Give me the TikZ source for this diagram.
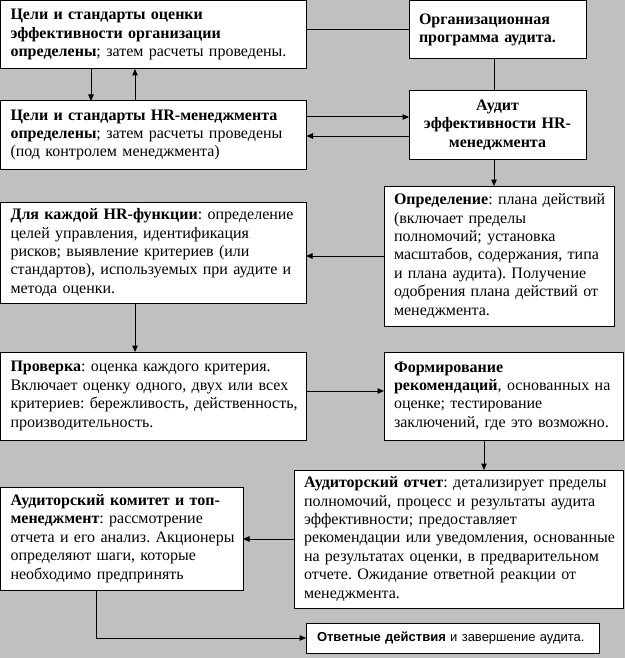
\documentclass[tikz,border=0pt]{standalone}
\usepackage{fontspec}
\setmainfont{Liberation Serif}
\newfontfamily\arialf{Liberation Sans}
\usetikzlibrary{arrows.meta,calc}
\definecolor{bggray}{RGB}{192,192,192}
\newcommand{\Lline}[1]{\mbox{#1}}
\frenchspacing
\tikzset{
  box/.style={draw=black, line width=1pt, fill=white, rectangle, inner xsep=10pt, inner ysep=0pt, outer sep=0pt, align=left, font=\fontsize{16}{18.4}\selectfont\frenchspacing},
  conn/.style={line width=1pt, draw=black},
  arr/.style={conn, -{Triangle[length=6.5pt,width=5.5pt]}}
}
\begin{document}
\begin{tikzpicture}[x=1pt,y=-1pt]
\fill[bggray] (0,0) rectangle (625,658);
\useasboundingbox (0,0) rectangle (625,658);

\node[box, minimum width=306, minimum height=68.5, text width=286] (A) at (153.5,34.75)
 {\Lline{\textbf{Цели и стандарты оценки}}\\ \Lline{\textbf{эффективности организации}}\\ \Lline{\textbf{определены}; затем расчеты проведены.}};
\node[box, minimum width=306, minimum height=68, text width=286] (B) at (153.5,135)
 {\Lline{\textbf{Цели и стандарты HR-менеджмента}}\\ \Lline{\textbf{определены}; затем расчеты проведены}\\ \Lline{(под контролем менеджмента)}};
\node[box, minimum width=177, minimum height=58.5, text width=157] (C) at (497.5,29.75)
 {\Lline{\textbf{Организационная}}\\ \Lline{\textbf{программа аудита.}}};
\node[box, minimum width=177, minimum height=68, text width=157, align=center] (D) at (497.5,125)
 {\textbf{Аудит}\\ \textbf{эффективности HR-}\\ \textbf{менеджмента}};
\node[box, minimum width=230, minimum height=140, text width=210] (E) at (499,256)
 {\Lline{\textbf{Определение}: плана действий}\\ \Lline{(включает пределы}\\ \Lline{полномочий; установка}\\ \Lline{масштабов, содержания, типа}\\ \Lline{и плана аудита). Получение}\\ \Lline{одобрения плана действий от}\\ \Lline{менеджмента.}};
\node[box, minimum width=305.5, minimum height=101, text width=285.5] (F) at (153.25,252.5)
 {\Lline{\textbf{Для каждой HR-функции}: определение}\\ \Lline{целей управления, идентификация}\\ \Lline{рисков; выявление критериев (или}\\ \Lline{стандартов), используемых при аудите и}\\ \Lline{метода оценки.}};
\node[box, minimum width=305.5, minimum height=88, text width=285.5] (G) at (153.25,396)
 {\Lline{\textbf{Проверка}: оценка каждого критерия.}\\ \Lline{Включает оценку одного, двух или всех}\\ \Lline{критериев: бережливость, действенность,}\\ \Lline{производительность.}};
\node[box, minimum width=239, minimum height=88, text width=219] (H) at (503.5,396)
 {\Lline{\textbf{Формирование}}\\ \Lline{\textbf{рекомендаций}, основанных на}\\ \Lline{оценке; тестирование}\\ \Lline{заключений, где это возможно.}};
\node[box, minimum width=329, minimum height=138, text width=309] (I) at (458.5,539)
 {\Lline{\textbf{Аудиторский отчет}: детализирует пределы}\\ \Lline{полномочий, процесс и результаты аудита}\\ \Lline{эффективности; предоставляет}\\ \Lline{рекомендации или уведомления, основанные}\\ \Lline{на результатах оценки, в предварительном}\\ \Lline{отчете. Ожидание ответной реакции от}\\ \Lline{менеджмента.}};
\node[box, minimum width=242.5, minimum height=103, text width=222.5] (J) at (121.75,538.5)
 {\Lline{\textbf{Аудиторский комитет и топ-}}\\ \Lline{\textbf{менеджмент}: рассмотрение}\\ \Lline{отчета и его анализ. Акционеры}\\ \Lline{определяют шаги, которые}\\ \Lline{необходимо предпринять}};
\node[box, minimum width=293, minimum height=30, text width=271, inner xsep=11pt, font=\arialf\fontsize{13}{15}\selectfont\frenchspacing] (K) at (452.5,638)
 {\Lline{\textbf{Ответные действия} и завершение аудита.}};

% connectors
\draw[conn] (C.west) -- (C.west -| A.east);
\draw[conn] ([xshift=-3.5]C.south) -- ([xshift=-3.5]D.north);
\draw[arr] ([xshift=-62.5]A.south) -- ([xshift=-62.5]A.south |- B.north);
\draw[arr] ([xshift=-18.5]B.north) -- ([xshift=-18.5]B.north |- A.south);
\draw[arr] ([yshift=18]B.east) -- ([yshift=18]B.east -| D.west);
\draw[arr] ([yshift=-11]D.west) -- ([yshift=-11]D.west -| B.east);
\draw[arr] ([xshift=-3.5]D.south) -- ([xshift=-3.5]D.south |- E.north);
\draw[arr] (E.west) -- (E.west -| F.east);
\draw[arr] ([xshift=-18.25]F.south) -- ([xshift=-18.25]F.south |- G.north);
\draw[arr] ([yshift=5]G.east) -- ([yshift=5]G.east -| H.west);
\draw[arr] ([xshift=-19.5]H.south) -- ([xshift=-19.5]H.south |- I.north);
\draw[arr] (I.west) -- (I.west -| J.east);
\draw[arr] ([xshift=-25.75]J.south) |- (K.west);
\end{tikzpicture}
\end{document}
